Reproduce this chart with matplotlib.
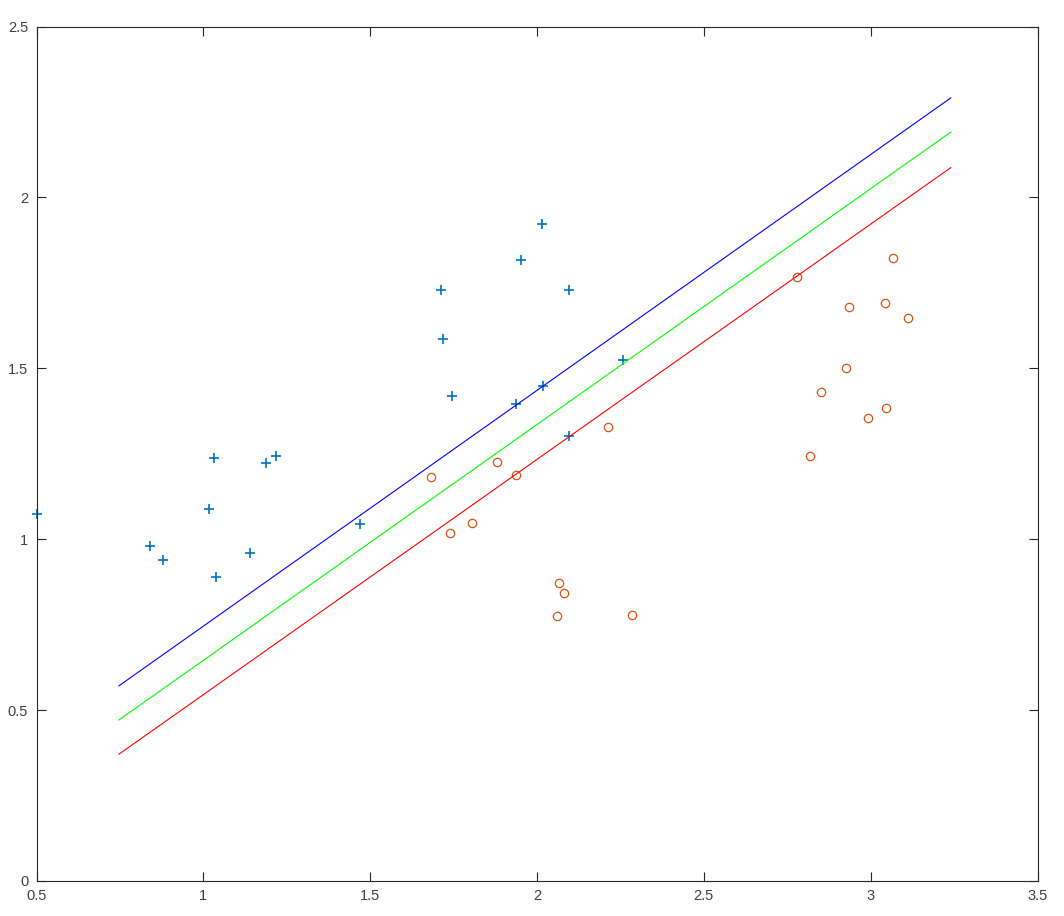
import matplotlib
matplotlib.use("Agg")
import matplotlib.pyplot as plt

# class +1 samples (plus markers)
pos_x = [0.500, 0.840, 0.879, 1.017, 1.032, 1.038, 1.140, 1.188, 1.218, 1.469,
         1.712, 1.718, 1.745, 1.952, 2.015, 2.096, 2.018, 1.937, 2.096, 2.258]
pos_y = [1.074, 0.980, 0.939, 1.088, 1.238, 0.889, 0.960, 1.223, 1.243, 1.044,
         1.729, 1.586, 1.419, 1.817, 1.922, 1.729, 1.448, 1.396, 1.302, 1.524]

# class -1 samples (circle markers)
neg_x = [1.682, 1.881, 1.936, 2.213, 1.805, 1.739, 2.065, 2.082, 2.061, 2.284,
         2.778, 3.067, 2.935, 3.044, 3.111, 2.927, 2.852, 3.047, 2.993, 2.819]
neg_y = [1.182, 1.225, 1.188, 1.327, 1.048, 1.018, 0.871, 0.843, 0.776, 0.777,
         1.767, 1.823, 1.678, 1.692, 1.646, 1.500, 1.431, 1.385, 1.354, 1.243]

# separating line and margins
line_x = [0.747, 3.24]
upper_y = [0.571, 2.291]
middle_y = [0.471, 2.191]
lower_y = [0.371, 2.087]

xticks = [0.5, 1, 1.5, 2, 2.5, 3, 3.5]
yticks = [0, 0.5, 1, 1.5, 2, 2.5]

plt.rcParams['font.family'] = ['Liberation Sans', 'DejaVu Sans']

fig = plt.figure(figsize=(10.64, 9.16), dpi=100)
ax = fig.add_axes([36.5 / 1064, 35 / 916, 1001 / 1064, 854.5 / 916])

ax.plot(pos_x, pos_y, '+', color='#0072BD', markersize=7, markeredgewidth=1.2,
        clip_on=False)
ax.plot(neg_x, neg_y, 'o', color='#D95319', markerfacecolor='none',
        markersize=6, markeredgewidth=0.9, clip_on=False)
ax.plot(line_x, upper_y, color='#0000FF', linewidth=0.8)
ax.plot(line_x, middle_y, color='#00FF00', linewidth=0.8)
ax.plot(line_x, lower_y, color='#FF0000', linewidth=0.8)

ax.set_xlim(0.5, 3.5)
ax.set_ylim(0, 2.5)
ax.set_xticks(xticks)
ax.set_yticks(yticks)
ax.set_xticklabels([f'{t:g}' for t in xticks])
ax.set_yticklabels([f'{t:g}' for t in yticks])

for s in ax.spines.values():
    s.set_color('#262626')
    s.set_linewidth(0.8)
ax.tick_params(direction='in', length=6.3, width=0.8, colors='#262626',
               labelcolor='#404040', labelsize=10.5, top=True, right=True)
ax.tick_params(axis='x', pad=6)
ax.tick_params(axis='y', pad=6)

fig.savefig('out.png', dpi=100)
